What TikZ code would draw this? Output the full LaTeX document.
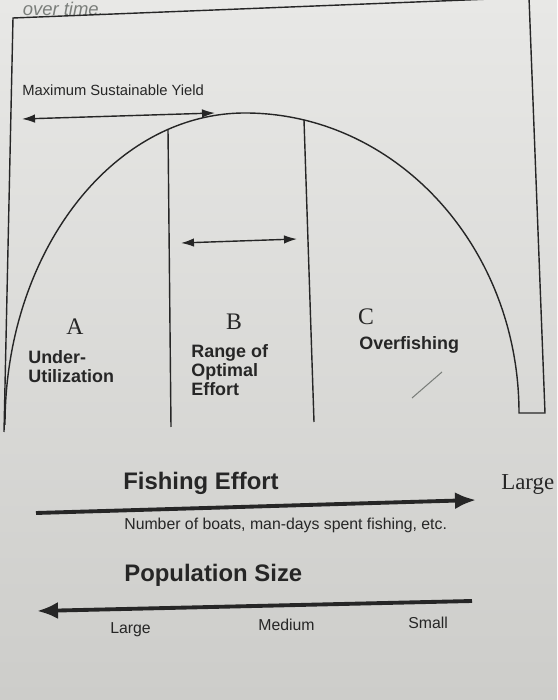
\documentclass[tikz,border=0pt]{standalone}
\usepackage{fontspec}
\setmainfont{Liberation Sans}
\newfontfamily\timesfont{Liberation Serif}
\usetikzlibrary{arrows.meta}
\definecolor{paper}{HTML}{E8E8E6}
\definecolor{paperdark}{HTML}{CDCDCA}
\definecolor{ink}{HTML}{262626}
\definecolor{pencil}{HTML}{7A7E7A}

\begin{document}
\begin{tikzpicture}[every node/.style={inner sep=0pt},
  thinline/.style={draw=ink,line width=0.8pt},
  thinarrow/.style={thinline,{Latex[length=2.6mm,width=1.7mm]}-{Latex[length=2.6mm,width=1.7mm]}},
  bigarrow/.style={draw=ink,line width=2.2pt,-{Latex[length=4.2mm,width=3.4mm]}},
  letter/.style={text=ink,font=\timesfont\fontsize{13.5}{14}\selectfont},
  zone/.style={text=ink,anchor=west,align=left,font=\bfseries\fontsize{10.2}{10.6}\selectfont},
  axis/.style={text=ink,anchor=west,font=\bfseries\fontsize{13.6}{15}\selectfont},
  tick/.style={text=ink,anchor=west,font=\fontsize{9}{10}\selectfont}]

\useasboundingbox (0,0) rectangle (11.14,14);
\shade [top color=paper,bottom color=paperdark] (0,0) rectangle (11.14,14);

%handwritten note above the frame
\node [text=pencil,anchor=base west,font=\itshape\fontsize{10.5}{11}\selectfont] (note) at (0.45,13.69) {over time.};

% frame and yield curve
\draw [thinline] (0.08,5.36) -- (0.26,13.64) -- (10.58,14.05);
\draw [thinline] (0.1,5.5) arc[start angle=180,end angle=90,x radius=4.8,y radius=6.24]
  arc[start angle=90,end angle=0,x radius=5.48,y radius=6.0] -- (10.9,5.74) -- (10.58,14.05);

\node [text=ink,anchor=west,font=\fontsize{8.4}{9}\selectfont] (msy) at (0.44,12.2) {Maximum Sustainable Yield};
\coordinate (msyL) at (0.44,11.62);
\coordinate (msyR) at (4.3,11.74);
\draw [thinarrow] (msyL) -- (msyR);

% zone borders
\coordinate (v1top) at (3.36,11.41);
\coordinate (v1bot) at (3.42,5.46);
\coordinate (v2top) at (6.08,11.6);
\coordinate (v2bot) at (6.28,5.56);
\draw [thinline] (v1top) -- (v1bot);
\draw [thinline] (v2top) -- (v2bot);

\coordinate (optL) at (3.62,9.14);
\coordinate (optR) at (5.94,9.22);
\draw [thinarrow] (optL) -- (optR);

\node [letter] (za) at (1.5,7.46) {A};
\node [letter] (zb) at (4.68,7.56) {B};
\node [letter] (zc) at (7.32,7.66) {C};
\node [zone] (under) at (0.56,6.67) {Under-\\Utilization};
\node [zone] (optimal) at (3.82,6.6) {Range of\\Optimal\\Effort};
\node [zone] (over) at (7.18,7.1) {Overfishing};

%pencil mark
\coordinate (p1) at (8.24,6.04);
\coordinate (p2) at (8.84,6.56);
\draw [pencil,line width=0.6pt] (p1) -- (p2);

% axes
\node [axis] (effort) at (2.46,4.34) {Fishing Effort};
\coordinate (effL) at (0.72,3.74);
\coordinate (effR) at (9.52,4.0);
\draw [bigarrow] (effL) -- (effR);
\node [text=ink,anchor=west,font=\timesfont\fontsize{13}{14}\selectfont] (large1) at (10.02,4.32) {Large};
\node [tick] (boats) at (2.48,3.5) {Number of boats, man-days spent fishing, etc.};

\node [axis] (pop) at (2.48,2.5) {Population Size};
\coordinate (popR) at (9.44,1.98);
\coordinate (popL) at (0.74,1.78);
\draw [bigarrow] (popR) -- (popL);
\node [tick] (large2) at (2.2,1.4) {Large};
\node [tick] (medium) at (5.16,1.5) {Medium};
\node [tick] (small) at (8.16,1.54) {Small};
\end{tikzpicture}
\end{document}
